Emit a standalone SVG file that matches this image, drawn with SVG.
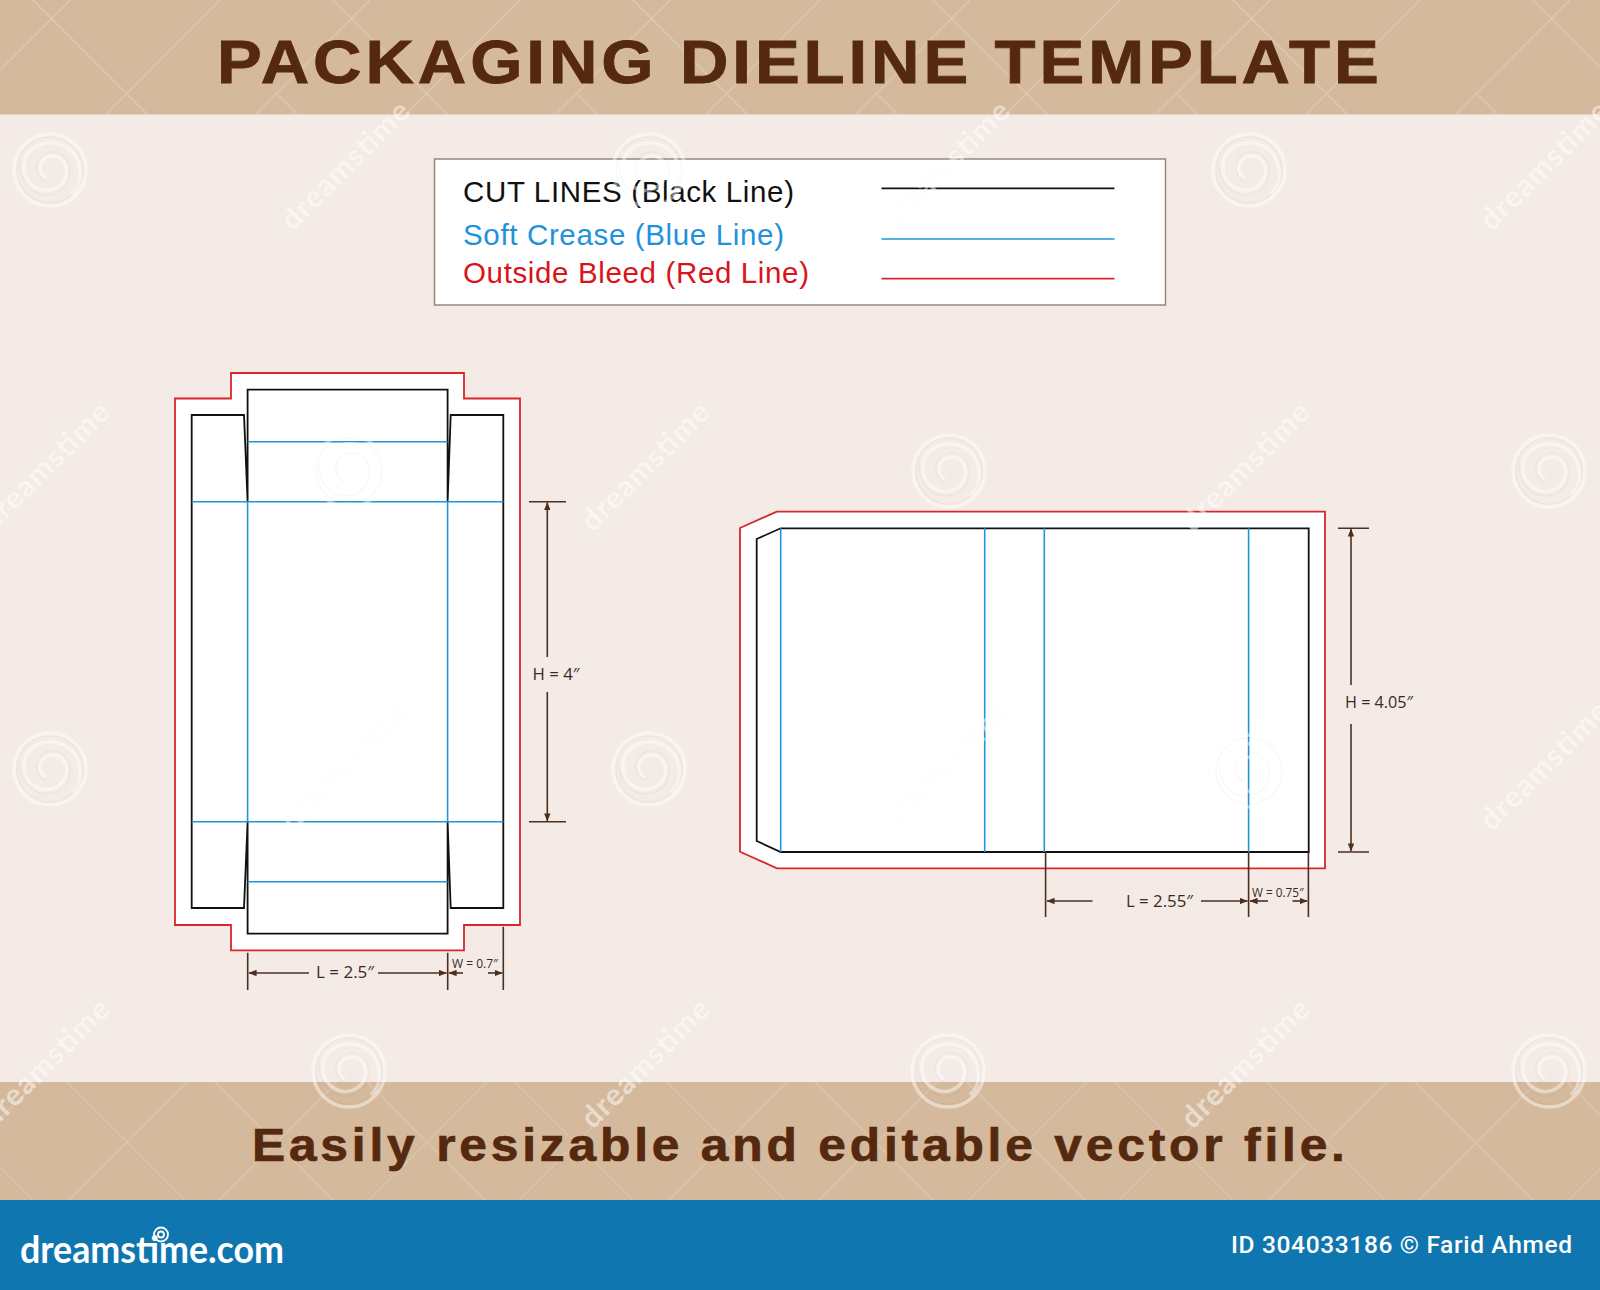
<svg xmlns="http://www.w3.org/2000/svg" width="1600" height="1290" viewBox="0 0 1600 1290">
<defs>
<g id="spiral" fill="none">
<g stroke="#fff" stroke-opacity=".45" stroke-width="3.6">
<circle r="36"/>
<path d="M-4 8C-14 4-12-14 3-14C18-14 22 8 8 17C-8 27-28 14-26-6C-24-24-2-32 14-24C32-15 36 12 22 24"/>
</g>
<g stroke="#6b5a50" stroke-opacity=".05" stroke-width="1.2">
<circle r="33"/>
<path d="M-4 11C-18 6-16-18 3-18C22-18 26 10 10 21C-10 33-32 16-30-8"/>
</g>
</g>
<text id="wm" class="wm" transform="rotate(-45)" textLength="168">dreamstime</text>
<pattern id="latticeTop" width="300" height="114.5" patternUnits="userSpaceOnUse">
<path d="M70 0L0 70M220 0L106 114M300 70L256 114M33 0L147 114M276 93L297 114" fill="none" stroke="#dfcab2" stroke-width="1.1"/>
</pattern>
<pattern id="latticeBottom" width="300" height="118" patternUnits="userSpaceOnUse" y="1082">
<path d="M187 0L69 118M37 0L0 37M300 37L219 118M67 0L185 118M215 0L300 85M0 85L33 118" fill="none" stroke="#dcc7af" stroke-width="1.1"/>
</pattern>
<marker id="a" viewBox="0 0 10 8" refX="9.5" refY="4" markerWidth="8" markerHeight="6.4" orient="auto-start-reverse" markerUnits="userSpaceOnUse"><path d="M0 0L10 4L0 8Z" fill="#4b3020"/></marker>
</defs>
<style>
text{font-family:"Liberation Sans",Arial,sans-serif}
.wm{font-family:"Lato","Liberation Sans",sans-serif;font-size:30px;font-weight:700;fill:#fff;fill-opacity:.5;stroke:#6b5a50;stroke-opacity:.05;stroke-width:.6}
.cut{fill:none;stroke:#111;stroke-width:1.8}
.crease{stroke:#1f96d8;stroke-width:1.6;fill:none}
.bleed{fill:#fff;stroke:#d9262b;stroke-width:1.8}
.dim{stroke:#4b3020;stroke-width:1.6;fill:none}
.dimt{font-family:"Open Sans","Liberation Sans",sans-serif;fill:#3d2a1c}
.title{font-weight:700;fill:#55290f;stroke:#55290f}
.leg{font-size:29.5px}
.logo{font-family:"Lato","Liberation Sans",sans-serif;font-weight:700;font-size:38px;fill:#fff}
.idt{font-family:"Roboto","Liberation Sans",sans-serif;font-weight:500;font-size:24.5px;fill:#fff}
</style>
<rect id="background" width="1600" height="1290" fill="#f4ebe6"/>
<g id="header"><rect width="1600" height="114.5" fill="#d5b99c"/><rect width="1600" height="114.5" fill="url(#latticeTop)"/></g>
<g id="footer-band"><rect y="1082" width="1600" height="118" fill="#d5b99c"/><rect y="1082" width="1600" height="118" fill="url(#latticeBottom)"/></g>
<text id="title" class="title" transform="scale(1.1,1)" x="197.3" y="83" font-size="61" stroke-width=".8" textLength="1056" lengthAdjust="spacing">PACKAGING DIELINE TEMPLATE</text>
<g id="legend">
<rect x="434.5" y="159" width="731" height="146" fill="#fff" stroke="#8d8278" stroke-width="1.4"/>
<text class="leg" x="463" y="201.5" fill="#111" textLength="331" lengthAdjust="spacing">CUT LINES (Black Line)</text>
<text class="leg" x="463" y="245" fill="#1f92dd" textLength="321" lengthAdjust="spacing">Soft Crease (Blue Line)</text>
<text class="leg" x="463" y="282.5" fill="#d9141b" textLength="346" lengthAdjust="spacing">Outside Bleed (Red Line)</text>
<line x1="881.5" y1="188.3" x2="1114.5" y2="188.3" stroke="#111" stroke-width="1.8"/>
<line x1="881.5" y1="239" x2="1114.5" y2="239" stroke="#1f96d8" stroke-width="1.6"/>
<line x1="881.5" y1="278.7" x2="1114.5" y2="278.7" stroke="#d9262b" stroke-width="1.8"/>
</g>
<g id="box-dieline">
<path class="bleed" d="M175 398.5H231V373H464V398.5H520V925H464V950.3H231V925H175Z"/>
<path class="cut" d="M247.6 501.7V389.7H447.6V501.7M247.6 501.7L244 415H191.7V908H244L247.6 821.7M447.6 501.7L450.7 415H503.3V908H450.7L447.6 821.7M247.6 821.7V933.7H447.6V821.7"/>
<path class="crease" d="M247.6 441.7H447.6M191.7 501.7H503.3M191.7 821.7H503.3M247.6 881.7H447.6M247.6 501.7V821.7M447.6 501.7V821.7"/>
</g>
<g id="sleeve-dieline">
<path class="bleed" d="M740 528L776.7 511.7H1325V868.3H777L740 851.7Z"/>
<path class="cut" d="M780.7 528.3H1308.7V852H780.7L756.7 841V539Z"/>
<path class="crease" d="M780.7 528.3V852M984.7 528.3V852M1044.3 528.3V852M1248.6 528.3V852"/>
</g>
<g id="connectors">
<path class="dim" d="M529 501.7H566M529 821.7H566M1338 528.3H1369M1338 852H1369"/>
<path class="dim" d="M247.7 952.7V990M447.7 952.7V990M503.3 926.7V990M1045.6 852V917M1248.6 852V917M1308.4 852V917"/>
<g marker-end="url(#a)">
<line class="dim" x1="547.3" y1="657" x2="547.3" y2="502.5"/>
<line class="dim" x1="547.3" y1="692" x2="547.3" y2="821"/>
<line class="dim" x1="1351" y1="685" x2="1351" y2="529"/>
<line class="dim" x1="1351" y1="724" x2="1351" y2="851"/>
<line class="dim" x1="309" y1="973" x2="249" y2="973"/>
<line class="dim" x1="378" y1="973" x2="446.5" y2="973"/>
<line class="dim" x1="463" y1="973" x2="449" y2="973"/>
<line class="dim" x1="488" y1="973" x2="502.3" y2="973"/>
<line class="dim" x1="1092.5" y1="901" x2="1047" y2="901"/>
<line class="dim" x1="1201" y1="901" x2="1247.5" y2="901"/>
<line class="dim" x1="1268" y1="901" x2="1250" y2="901"/>
<line class="dim" x1="1292.5" y1="901" x2="1307.3" y2="901"/>
</g>
</g>
<g id="dimension-labels">
<text class="dimt" x="532.5" y="680" font-size="16.8">H = 4″</text>
<text class="dimt" x="1345" y="708" font-size="16.2">H = 4.05″</text>
<text class="dimt" x="316" y="977.5" font-size="17">L = 2.5″</text>
<text class="dimt" x="452" y="967.5" font-size="12">W = 0.7″</text>
<text class="dimt" x="1126" y="906.5" font-size="16.8">L = 2.55″</text>
<text class="dimt" x="1252" y="897" font-size="11.8">W = 0.75″</text>
</g>
<text id="subtitle" class="title" transform="scale(1.08,1)" x="233.3" y="1160.7" font-size="46" stroke-width=".7" textLength="1012" lengthAdjust="spacing">Easily resizable and editable vector file.</text>
<g id="watermarks">
<use href="#spiral" x="50" y="170"/><use href="#spiral" x="649" y="170"/><use href="#spiral" x="1249" y="170"/>
<use href="#spiral" x="349" y="471"/><use href="#spiral" x="949" y="471"/><use href="#spiral" x="1549" y="471"/>
<use href="#spiral" x="50" y="769"/><use href="#spiral" x="649" y="769"/><use href="#spiral" x="1249" y="771"/>
<use href="#spiral" x="349" y="1071"/><use href="#spiral" x="948" y="1071"/><use href="#spiral" x="1549" y="1071"/>
<use href="#wm" x="293" y="232"/><use href="#wm" x="893" y="232"/><use href="#wm" x="1492" y="232"/>
<use href="#wm" x="-7" y="533"/><use href="#wm" x="593" y="533"/><use href="#wm" x="1193" y="533"/>
<use href="#wm" x="293" y="832"/><use href="#wm" x="893" y="832"/><use href="#wm" x="1492" y="832"/>
<use href="#wm" x="-7" y="1130"/><use href="#wm" x="593" y="1130"/><use href="#wm" x="1193" y="1130"/>
</g>
<g id="credit-bar">
<rect y="1200" width="1600" height="90" fill="#0f76af"/>
<text class="logo" x="20" y="1263" textLength="264" lengthAdjust="spacingAndGlyphs">dreamstime.com</text>
<g fill="none" stroke="#fff" stroke-width="1.8"><circle cx="161" cy="1234.5" r="7"/><circle cx="161" cy="1234.5" r="3"/></g>
<text class="idt" x="1231" y="1253" textLength="341" lengthAdjust="spacing">ID 304033186 © Farid Ahmed</text>
</g>
</svg>
